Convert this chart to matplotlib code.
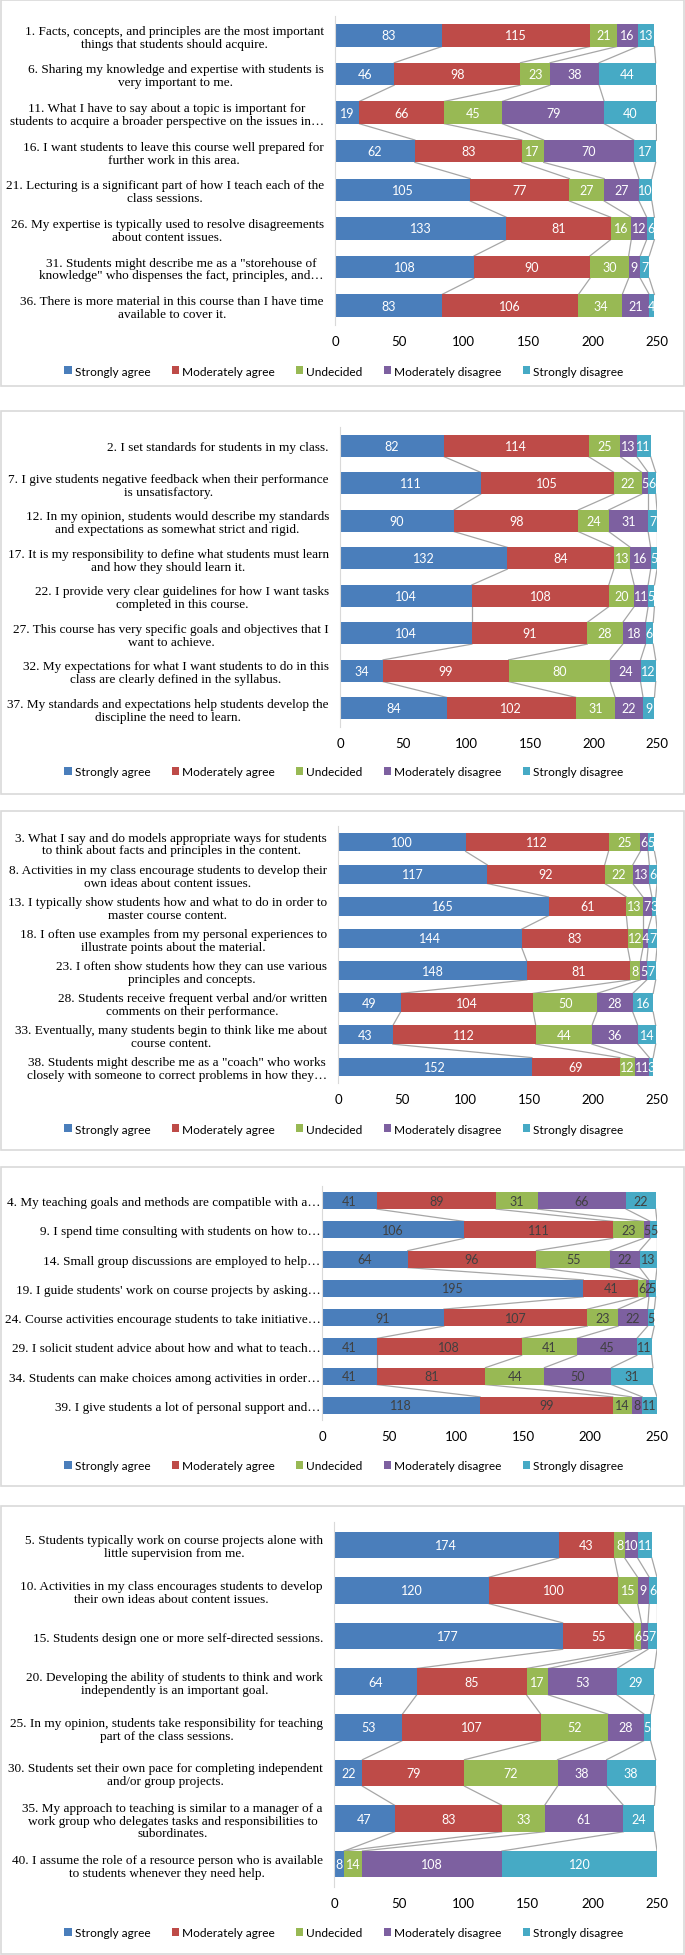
import numpy as np
import matplotlib.pyplot as plt
from matplotlib.patches import Rectangle

# legend / series names
series = ["Strongly agree", "Moderately agree", "Undecided", "Moderately disagree", "Strongly disagree"]
colors = ["#4A7EBB", "#BE4B48", "#98B954", "#7D60A0", "#46AAC5"]

# panel 1
labels1 = ["1. Facts, concepts, and principles are the most important\nthings that students should acquire.",
           "6. Sharing my knowledge and expertise with students is\nvery important to me.",
           "11. What I have to say about a topic is important for\nstudents to acquire a broader perspective on the issues in…",
           "16. I want students to leave this course well prepared for\nfurther work in this area.",
           "21. Lecturing is a significant part of how I teach each of the\nclass sessions.",
           "26. My expertise is typically used to resolve disagreements\nabout content issues.",
           "31. Students might describe me as a \"storehouse of\nknowledge\" who dispenses the fact, principles, and…",
           "36. There is more material in this course than I have time\navailable to cover it."]
sa1 = [83, 46, 19, 62, 105, 133, 108, 83]
ma1 = [115, 98, 66, 83, 77, 81, 90, 106]
un1 = [21, 23, 45, 17, 27, 16, 30, 34]
md1 = [16, 38, 79, 70, 27, 12, 9, 21]
sd1 = [13, 44, 40, 17, 10, 6, 7, 4]

# panel 2
labels2 = ["2. I set standards for students in my class.",
           "7. I give students negative feedback when their performance\nis unsatisfactory.",
           "12. In my opinion, students would describe my standards\nand expectations as somewhat strict and rigid.",
           "17. It is my responsibility to define what students must learn\nand how they should learn it.",
           "22. I provide very clear guidelines for how I want tasks\ncompleted in this course.",
           "27. This course has very specific goals and objectives that I\nwant to achieve.",
           "32. My expectations for what I want students to do in this\nclass are clearly defined in the syllabus.",
           "37. My standards and expectations help students develop the\ndiscipline the need to learn."]
sa2 = [82, 111, 90, 132, 104, 104, 34, 84]
ma2 = [114, 105, 98, 84, 108, 91, 99, 102]
un2 = [25, 22, 24, 13, 20, 28, 80, 31]
md2 = [13, 5, 31, 16, 11, 18, 24, 22]
sd2 = [11, 6, 7, 5, 5, 6, 12, 9]

# panel 3
labels3 = ["3. What I say and do models appropriate ways for students\nto think about facts and principles in the content.",
           "8. Activities in my class encourage students to develop their\nown ideas about content issues.",
           "13. I typically show students how and what to do in order to\nmaster course content.",
           "18. I often use examples from my personal experiences to\nillustrate points about the material.",
           "23. I often show students how they can use various\nprinciples and concepts.",
           "28. Students receive frequent verbal and/or written\ncomments on their performance.",
           "33. Eventually, many students begin to think like me about\ncourse content.",
           "38. Students might describe me as a \"coach\" who works\nclosely with someone to correct problems in how they…"]
sa3 = [100, 117, 165, 144, 148, 49, 43, 152]
ma3 = [112, 92, 61, 83, 81, 104, 112, 69]
un3 = [25, 22, 13, 12, 8, 50, 44, 12]
md3 = [6, 13, 7, 4, 5, 28, 36, 11]
sd3 = [5, 6, 3, 7, 7, 16, 14, 3]

# panel 4
labels4 = ["4. My teaching goals and methods are compatible with a…",
           "9. I spend time consulting with students on how to…",
           "14. Small group discussions are employed to help…",
           "19. I guide students' work on course projects by asking…",
           "24. Course activities encourage students to take initiative…",
           "29. I solicit student advice about how and what to teach…",
           "34. Students can make choices among activities in order…",
           "39. I give students a lot of personal support and…"]
sa4 = [41, 106, 64, 195, 91, 41, 41, 118]
ma4 = [89, 111, 96, 41, 107, 108, 81, 99]
un4 = [31, 23, 55, 6, 23, 41, 44, 14]
md4 = [66, 5, 22, 2, 22, 45, 50, 8]
sd4 = [22, 5, 13, 5, 5, 11, 31, 11]

# panel 5
labels5 = ["5. Students typically work on course projects alone with\nlittle supervision from me.",
           "10. Activities in my class encourages students to develop\ntheir own ideas about content issues.",
           "15. Students design one or more self-directed sessions.",
           "20. Developing the ability of students to think and work\nindependently is an important goal.",
           "25. In my opinion, students take responsibility for teaching\npart of the class sessions.",
           "30. Students set their own pace for completing independent\nand/or group projects.",
           "35. My approach to teaching is similar to a manager of a\nwork group who delegates tasks and responsibilities to\nsubordinates.",
           "40. I assume the role of a resource person who is available\nto students whenever they need help."]
sa5 = [174, 120, 177, 64, 53, 22, 47, 8]
ma5 = [43, 100, 55, 85, 107, 79, 83, 0]
un5 = [8, 15, 6, 17, 52, 72, 33, 14]
md5 = [10, 9, 5, 53, 28, 38, 61, 108]
sd5 = [11, 6, 7, 29, 5, 38, 24, 120]

W, H = 685, 1956
fig = plt.figure(figsize=(W / 100, H / 100), dpi=100)


def fx(px):
    return px / W


def fy(py):
    return 1 - py / H


def panel(box, axbox, labels, vals, leg_y, txt_color="white", pad=8):
    x0, y0, x1, y1 = box
    fig.add_artist(Rectangle((fx(x0), fy(y1)), fx(x1 - x0), (y1 - y0) / H,
                             transform=fig.transFigure, fill=False,
                             edgecolor="#d9d9d9", lw=1.2))
    l, t, r, b = axbox
    ax = fig.add_axes([fx(l), fy(b), fx(r - l), (b - t) / H])
    data = np.array(vals)
    n = data.shape[1]
    y = np.arange(n)
    h = 0.58
    left = np.zeros(n)
    for k in range(5):
        ax.barh(y, data[k], left=left, height=h, color=colors[k], label=series[k], zorder=2)
        for j in range(n):
            if data[k][j] > 0:
                ax.text(left[j] + data[k][j] / 2, y[j], str(data[k][j]), ha="center", va="center",
                        color=txt_color, fontsize=9, family="Lato", zorder=3)
        left = left + data[k]
    # series lines between bars
    cum = np.cumsum(data, axis=0)
    for j in range(n - 1):
        for k in range(5):
            ax.plot([cum[k][j], cum[k][j + 1]], [j + h / 2, j + 1 - h / 2],
                    color="#a6a6a6", lw=0.9, zorder=1)
    ax.set_xlim(0, 250)
    ax.set_ylim(n - 0.5, -0.5)
    ax.set_xticks([0, 50, 100, 150, 200, 250])
    ax.set_yticks(y)
    ax.set_yticklabels(labels, family="Liberation Serif", fontsize=9.5)
    for t_ in ax.get_yticklabels():
        t_.set_multialignment("center")
        t_.set_linespacing(1.1)
    for t_ in ax.get_xticklabels():
        t_.set_family("Lato")
        t_.set_fontsize(9.5)
    ax.tick_params(axis="x", length=0, pad=7)
    ax.tick_params(axis="y", length=0, pad=pad)
    for s in ["top", "right", "bottom"]:
        ax.spines[s].set_visible(False)
    ax.spines["left"].set_color("#d9d9d9")
    handles, _ = ax.get_legend_handles_labels()
    fig.legend(handles, series, loc="center", bbox_to_anchor=(fx(344), fy(leg_y)), ncol=5,
               frameon=False, handlelength=0.6, handleheight=0.6, handletextpad=0.25,
               columnspacing=1.8, prop={"family": "Lato", "size": 8.6})
    return ax


panel((1, 1, 684, 387), (335, 17, 657, 326), labels1, [sa1, ma1, un1, md1, sd1], 372)
panel((1, 412, 684, 795), (340, 428, 657, 728), labels2, [sa2, ma2, un2, md2, sd2], 773)
panel((1, 812, 684, 1151), (338, 827, 657, 1084), labels3, [sa3, ma3, un3, md3, sd3], 1130)
panel((1, 1168, 684, 1487), (322, 1187, 657, 1421), labels4, [sa4, ma4, un4, md4, sd4], 1467,
      txt_color="#404040", pad=1)
panel((1, 1507, 684, 1955), (334, 1523, 657, 1888), labels5, [sa5, ma5, un5, md5, sd5], 1934)

fig.savefig("out.png", dpi=100)
